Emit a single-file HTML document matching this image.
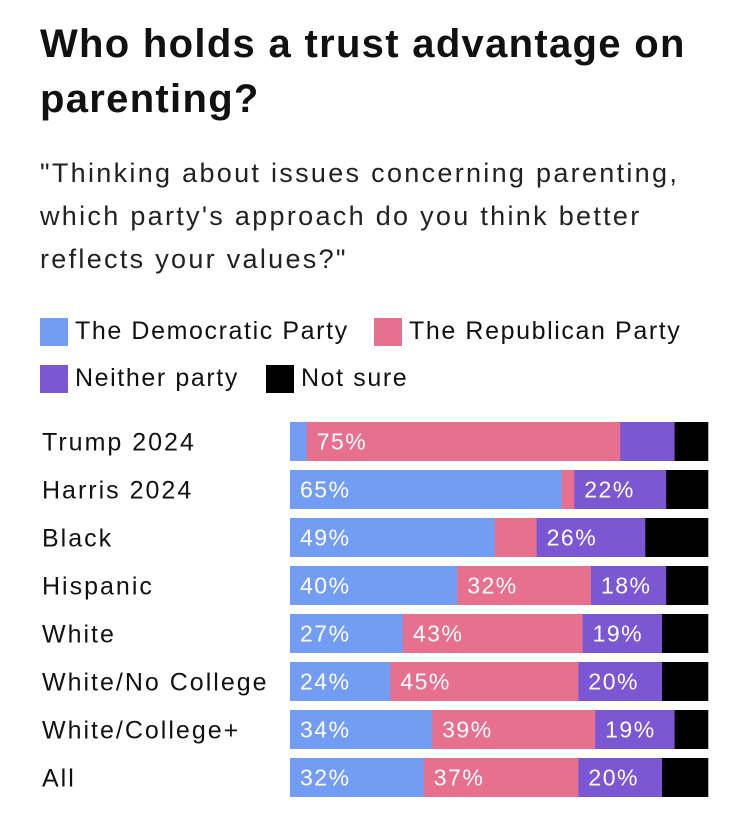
<!DOCTYPE html>
<html><head><meta charset="utf-8"><style>
body{margin:0;background:#fff;width:750px;height:824px;overflow:hidden;font-family:"Liberation Sans","DejaVu Sans",sans-serif;color:#111}
#title{position:absolute;left:40px;top:17px;font-size:40px;font-weight:bold;line-height:55px;letter-spacing:1.3px}
#sub{position:absolute;left:40px;top:152px;font-size:27px;line-height:43px;color:#222;letter-spacing:2.3px}
.leg{position:absolute;font-size:25px;display:flex;align-items:center;letter-spacing:1.6px}
.sw{width:28px;height:28px;margin-right:7px}
</style></head><body>
<div id="title">Who holds a trust advantage on<br>parenting?</div>
<div id="sub">"Thinking about issues concerning parenting,<br>which party's approach do you think better<br>reflects your values?"</div>
<div class="leg" style="left:40px;top:317px"><div class="sw" style="background:#739CF5"></div>The Democratic Party</div>
<div class="leg" style="left:374px;top:317px"><div class="sw" style="background:#E8708F"></div>The Republican Party</div>
<div class="leg" style="left:40px;top:364px"><div class="sw" style="background:#7C57D4"></div>Neither party</div>
<div class="leg" style="left:266px;top:364px"><div class="sw" style="background:#000"></div>Not sure</div>
<svg id="chart" width="750" height="824" style="position:absolute;left:0;top:0"></svg>
<script>
const categories=["Trump 2024","Harris 2024","Black","Hispanic","White","White/No College","White/College+","All"];
const democratic=[4,65,49,40,27,24,34,32];
const republican=[75,3,10,32,43,45,39,37];
const neither=[13,22,26,18,19,20,19,20];
const notSure=[8,10,15,10,11,11,8,11];
const series=[["democratic",democratic,"#739CF5"],["republican",republican,"#E8708F"],["neither",neither,"#7C57D4"],["not-sure",notSure,"#000"]];
const x0=290,x1=708,y0=422,step=48,bh=39;
const NS="http://www.w3.org/2000/svg";
const svg=document.getElementById('chart');
function xs(v,total){return v/total*(x1-x0);}
function yr(i){return y0+i*step;}
categories.forEach((c,i)=>{
  const t=document.createElementNS(NS,'text');
  t.setAttribute('x',42);t.setAttribute('y',yr(i)+bh/2+9);
  t.setAttribute('font-size','25');t.setAttribute('fill','#111');t.setAttribute('letter-spacing','2');
  t.textContent=c;
  
  
  svg.appendChild(t);
  let total=series.reduce((s,a)=>s+a[1][i],0);
  let cx=x0;
  series.forEach((s,k)=>{
    const w=xs(s[1][i],total);
    const r=document.createElementNS(NS,'rect');
    r.setAttribute('x',cx);r.setAttribute('y',yr(i));r.setAttribute('width',w+0.3);r.setAttribute('height',bh);r.setAttribute('fill',s[2]);
    
    
    svg.appendChild(r);
    if(k<3&&s[1][i]>=15){
      const l=document.createElementNS(NS,'text');
      l.setAttribute('x',cx+10);l.setAttribute('y',yr(i)+bh/2+8);
      l.setAttribute('font-size','23');l.setAttribute('fill','#fff');l.setAttribute('letter-spacing','1.5');
      l.textContent=s[1][i]+'%';
      
      
      svg.appendChild(l);
    }
    cx+=w;
  });
});
</script>
</body></html>
